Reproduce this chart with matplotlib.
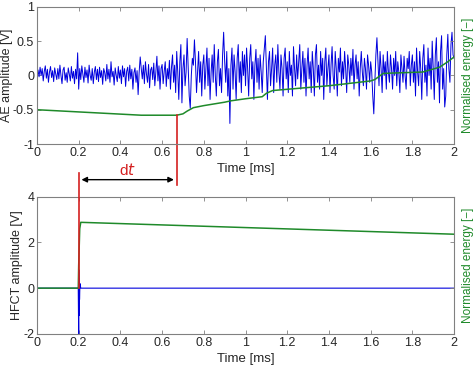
import numpy as np
import matplotlib
matplotlib.use("Agg")
import matplotlib.pyplot as plt

plt.rcParams['font.family'] = ['Liberation Sans', 'DejaVu Sans']

# Señal AE (paso 0.005 ms, 0..2 ms)
ae_signal = [
    -0.05, 0.08, -0.02, 0.12, 0.0, 0.1, -0.08, 0.06, 0.14, -0.04, 0.09, -0.1, 0.05, 0.13, -0.03, 0.07, -0.09, 0.11, 0.02, -0.06,
    0.1, -0.05, 0.15, 0.0, -0.12, 0.08, 0.12, -0.07, 0.04, -0.1, 0.11, 0.02, -0.08, 0.13, -0.04, 0.06, -0.12, 0.09, -0.05, 0.33,
    -0.2, 0.1, -0.06, 0.14, 0.02, -0.1, 0.12, -0.03, 0.08, -0.11, 0.15, 0.0, -0.07, 0.1, -0.12, 0.05, 0.13, -0.06, 0.09, -0.09,
    0.12, -0.03, 0.07, -0.13, 0.1, 0.04, -0.08, 0.16, -0.05, 0.09, -0.1, 0.2, -0.02, 0.06, -0.14, 0.11, 0.0, -0.09, 0.13, -0.04,
    0.08, -0.12, 0.14, -0.02, 0.1, -0.16, 0.06, 0.12, -0.08, 0.15, -0.05, 0.09, -0.2, 0.04, 0.11, -0.1, 0.07, -0.28, 0.05, 0.27,
    0.1, -0.05, 0.15, -0.12, 0.2, 0.02, -0.1, 0.16, -0.18, 0.08, 0.12, -0.06, 0.18, -0.15, 0.05, 0.28, -0.08, 0.14, -0.2, 0.1,
    0.16, -0.12, 0.06, 0.2, -0.16, 0.1, -0.05, 0.22, -0.2, 0.12, 0.3, -0.1, 0.15, -0.25, 0.35, 0.05, -0.35, 0.2, 0.45, -0.4,
    0.1, 0.3, -0.15, 0.05, 0.54, 0.1, -0.3, -0.48, 0.0, 0.25, 0.15, 0.52, 0.2, -0.25, 0.05, 0.35, -0.1, 0.2, -0.3, 0.15,
    0.3, -0.2, 0.1, 0.4, -0.15, 0.25, -0.35, 0.05, 0.3, -0.1, 0.45, 0.0, -0.3, 0.2, 0.38, -0.15, 0.1, -0.25, 0.3, 0.63,
    0.2, -0.1, 0.35, -0.3, 0.1, -0.7, 0.15, 0.4, -0.2, 0.3, 0.05, -0.35, 0.25, 0.45, -0.1, 0.2, -0.25, 0.35, 0.0, 0.3,
    -0.15, 0.4, 0.1, -0.3, 0.25, 0.45, -0.05, 0.2, -0.35, 0.15, 0.38, -0.1, 0.25, -0.2, 0.3, 0.05, -0.25, 0.2, 0.4, 0.58,
    0.1, -0.35, 0.2, 0.35, -0.15, 0.1, 0.4, -0.25, 0.15, 0.3, -0.1, 0.45, 0.05, -0.2, 0.3, 0.1, -0.3, 0.25, 0.4, -0.05,
    0.2, -0.25, 0.35, 0.0, 0.15, -0.3, 0.42, 0.1, -0.15, 0.3, -0.05, 0.2, 0.45, -0.2, 0.1, 0.35, -0.1, 0.25, -0.3, 0.15,
    0.4, -0.05, 0.2, -0.25, 0.35, 0.1, -0.3, 0.3, 0.45, -0.1, 0.15, -0.2, 0.35, 0.0, 0.25, -0.35, 0.2, 0.4, -0.15, 0.1,
    0.3, -0.25, 0.15, 0.42, 0.0, -0.2, 0.35, 0.1, -0.3, 0.25, 0.05, 0.4, -0.15, 0.2, -0.05, 0.35, 0.1, -0.25, 0.3, 0.15,
    -0.1, 0.25, 0.0, 0.38, -0.2, 0.15, 0.3, -0.05, 0.2, -0.3, 0.1, 0.35, 0.05, -0.15, 0.25, 0.1, -0.2, 0.3, 0.15, -0.1,
    0.2, 0.05, -0.3, -0.56, -0.1, 0.3, 0.55, 0.2, -0.15, 0.35, 0.1, -0.25, 0.3, 0.0, 0.2, -0.2, 0.35, 0.05, -0.1, 0.3,
    0.1, -0.2, 0.25, 0.0, 0.35, -0.15, 0.2, 0.05, -0.25, 0.3, 0.1, -0.1, 0.28, 0.0, -0.2, 0.25, 0.1, 0.35, -0.15, 0.15,
    0.3, -0.1, 0.2, -0.3, 0.4, 0.05, -0.15, 0.35, 0.1, -0.35, 0.25, 0.45, -0.1, 0.15, -0.3, 0.4, 0.0, 0.25, -0.2, 0.5,
    0.1, -0.35, 0.3, 0.55, -0.1, 0.2, -0.4, 0.35, 0.58, -0.2, 0.1, -0.46, -0.3, 0.3, 0.6, 0.1, -0.1, 0.45, 0.63, 0.3, 0.25,
]
t_ae = np.linspace(0, 2, len(ae_signal))

# Energía normalizada AE (puntos leídos)
ae_energy_t = [0, 0.5, 0.67, 0.7, 0.72, 0.75, 0.8, 0.9, 0.93, 1.0, 1.08, 1.1, 1.13, 1.4, 1.6, 1.62, 1.66, 1.85, 1.93, 1.97, 2.0]
ae_energy_v = [-0.5, -0.58, -0.58, -0.56, -0.52, -0.47, -0.44, -0.39, -0.37, -0.34, -0.31, -0.26, -0.22, -0.15, -0.08, -0.06, 0.03, 0.05, 0.12, 0.2, 0.27]

# Señal HFCT y su energía
hfct_t = [0, 0.198, 0.2, 0.201, 0.202, 0.203, 0.204, 0.206, 0.21, 2.0]
hfct_v = [0, 0, -2.0, 0.8, -1.2, 0.4, -0.5, 0.2, 0, 0]
hfct_energy_t = [0, 0.198, 0.2, 0.205, 0.21, 2.0]
hfct_energy_v = [0, 0, 1.0, 2.6, 2.88, 2.36]

t_start = 0.2    # llegada HFCT
t_ae_arr = 0.67  # llegada AE

xticks = [0, 0.2, 0.4, 0.6, 0.8, 1, 1.2, 1.4, 1.6, 1.8, 2]
xticklabels = ['0', '0.2', '0.4', '0.6', '0.8', '1', '1.2', '1.4', '1.6', '1.8', '2']

blue = '#0000dd'
green = '#1f8a2a'
red = '#d42020'
spine_c = '#808080'
txt_c = '#262626'

fig = plt.figure(figsize=(4.74, 3.82), dpi=100)
ax1 = fig.add_axes([0.078, 0.623, 0.880, 0.359])
ax2 = fig.add_axes([0.078, 0.126, 0.880, 0.359])


def style(ax, yticks, yticklabels, ylabel):
    ax.set_xlim(0, 2)
    ax.set_xticks(xticks)
    ax.set_xticklabels(xticklabels)
    ax.set_yticks(yticks)
    ax.set_yticklabels(yticklabels)
    ax.tick_params(direction='in', length=3, width=0.6, colors=spine_c,
                   labelcolor=txt_c, labelsize=9, top=True, right=False, pad=2)
    for s in ax.spines.values():
        s.set_color(spine_c)
        s.set_linewidth(0.8)
    ax.set_xlabel('Time [ms]', fontsize=9.5, color=txt_c, labelpad=3)
    ax.set_ylabel(ylabel, fontsize=9, color=txt_c, labelpad=0)
    axr = ax.twinx()
    axr.set_ylim(ax.get_ylim())
    axr.set_yticks(yticks[1:-1])
    axr.set_yticklabels([])
    axr.tick_params(direction='in', length=3, width=0.6, colors=spine_c)
    for s in axr.spines.values():
        s.set_visible(False)
    axr.set_ylabel('Normalised energy [\u2212]', fontsize=8.5, color=green, labelpad=2)


# --- panel superior: AE ---
ax1.plot(t_ae, ae_signal, color=blue, lw=0.7)
ax1.plot(ae_energy_t, ae_energy_v, color=green, lw=1.1)
ax1.set_ylim(-1, 1)
style(ax1, [-1, -0.5, 0, 0.5, 1], ['-1', '-0.5', '0', '0.5', '1'], 'AE amplitude [V]')

# línea roja de llegada AE
ax1.plot([t_ae_arr, t_ae_arr], [-0.58, -1.6], color=red, lw=1.2, clip_on=False)
# flecha dt
ax1.annotate('', xy=(t_start, -1.52), xytext=(t_ae_arr, -1.52),
             arrowprops=dict(arrowstyle='<|-|>', color='black', lw=1.0, mutation_scale=8),
             annotation_clip=False)
ax1.text((t_start + t_ae_arr) / 2, -1.38, r'd$\it{t}$', color=red, fontsize=11,
         ha='center', va='center', clip_on=False)

# --- panel inferior: HFCT ---
ax2.plot(hfct_t, hfct_v, color=blue, lw=0.8)
ax2.plot(hfct_energy_t, hfct_energy_v, color=green, lw=1.1)
ax2.set_ylim(-2, 4)
style(ax2, [-2, 0, 2, 4], ['-2', '0', '2', '4'], 'HFCT amplitude [V]')
ax2.plot([t_start, t_start], [0, 5.04], color=red, lw=1.2, clip_on=False, zorder=5)

fig.savefig('out.png', dpi=100)
